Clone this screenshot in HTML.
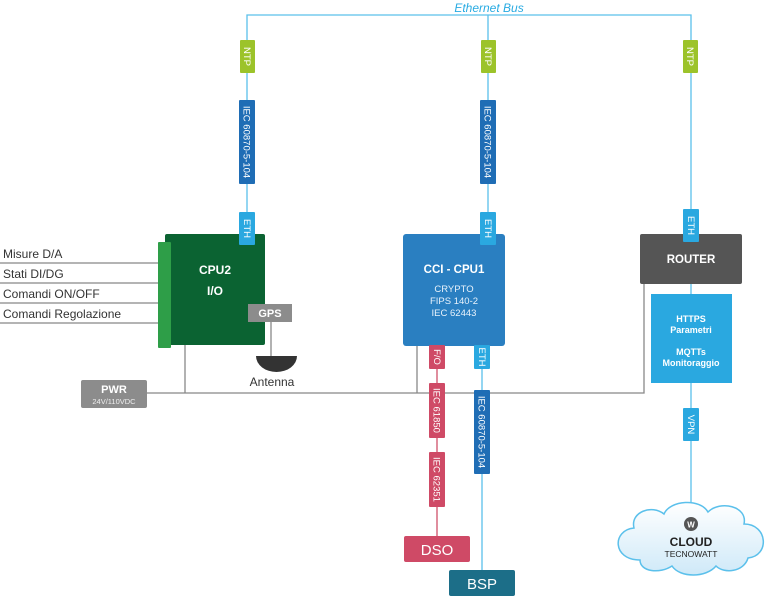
<!DOCTYPE html>
<html><head><meta charset="utf-8"><style>
html,body{margin:0;padding:0;background:#fff;}
svg{display:block;font-family:"Liberation Sans",sans-serif;}
</style></head><body>
<svg width="768" height="596" viewBox="0 0 768 596" xmlns="http://www.w3.org/2000/svg">
<defs>
<linearGradient id="cg" x1="0" y1="0" x2="0" y2="1"><stop offset="0" stop-color="#ffffff"/><stop offset="1" stop-color="#cfe9f8"/></linearGradient>
</defs>
<g stroke="#5bc0eb" stroke-width="1.3" fill="none">
<polyline points="247,246 247,15 691,15 691,242"/>
<line x1="488" y1="15" x2="488" y2="246"/>
<line x1="482" y1="368" x2="482" y2="570"/>
<line x1="691" y1="284" x2="691" y2="505"/>
</g>
<text x="489" y="12" font-size="12" font-style="italic" fill="#29abe2" text-anchor="middle">Ethernet Bus</text>
<g stroke="#888" stroke-width="1.3" fill="none">
<polyline points="147,393 644,393 644,284"/>
<line x1="185" y1="344" x2="185" y2="393"/>
<line x1="417" y1="346" x2="417" y2="393"/>
<line x1="271" y1="322" x2="271" y2="356"/>
<line x1="0" y1="263" x2="158" y2="263"/>
<line x1="0" y1="283" x2="158" y2="283"/>
<line x1="0" y1="303" x2="158" y2="303"/>
<line x1="0" y1="323" x2="158" y2="323"/>
</g>
<line x1="437" y1="368" x2="437" y2="536" stroke="#d0506a" stroke-width="1.3"/>
<g font-size="12" fill="#333">
<text x="3" y="258">Misure D/A</text>
<text x="3" y="278">Stati DI/DG</text>
<text x="3" y="298">Comandi ON/OFF</text>
<text x="3" y="318">Comandi Regolazione</text>
</g>
<rect x="165" y="234" width="100" height="111" rx="2" fill="#0b6332"/>
<rect x="158" y="242" width="13" height="106" rx="1" fill="#2e9e48"/>
<text x="215" y="274" font-size="12" font-weight="bold" fill="#fff" text-anchor="middle">CPU2</text>
<text x="215" y="295" font-size="12" font-weight="bold" fill="#fff" text-anchor="middle">I/O</text>
<rect x="248" y="304" width="44" height="18" fill="#8c8c8c"/>
<text x="270" y="317" font-size="11" font-weight="bold" fill="#fff" text-anchor="middle">GPS</text>
<path d="M256,356 L297,356 A20.5,16 0 0 1 256,356 Z" fill="#333"/>
<text x="272" y="386" font-size="12" fill="#333" text-anchor="middle">Antenna</text>
<rect x="81" y="380" width="66" height="28" rx="2" fill="#8c8c8c"/>
<text x="114" y="393" font-size="11" font-weight="bold" fill="#fff" text-anchor="middle">PWR</text>
<text x="114" y="404" font-size="7.5" fill="#eee" text-anchor="middle">24V/110VDC</text>
<rect x="403" y="234" width="102" height="112" rx="3" fill="#2a7fc1"/>
<text x="454" y="273" font-size="11.5" font-weight="bold" fill="#fff" text-anchor="middle">CCI - CPU1</text>
<g font-size="9.5" fill="#e8f2fb" text-anchor="middle">
<text x="454" y="292">CRYPTO</text>
<text x="454" y="304">FIPS 140-2</text>
<text x="454" y="316">IEC 62443</text>
</g>
<rect x="640" y="234" width="102" height="50" rx="2" fill="#555"/>
<text x="691" y="263" font-size="11.5" font-weight="bold" fill="#fff" text-anchor="middle">ROUTER</text>
<rect x="651" y="294" width="81" height="89" fill="#2aa8e0"/>
<g font-size="9" font-weight="bold" fill="#fff" text-anchor="middle">
<text x="691" y="322">HTTPS</text>
<text x="691" y="333">Parametri</text>
<text x="691" y="355">MQTTs</text>
<text x="691" y="366">Monitoraggio</text>
</g>
<rect x="404" y="536" width="66" height="26" rx="2" fill="#cf4a66"/>
<text x="437" y="555" font-size="15" fill="#fff" text-anchor="middle">DSO</text>
<rect x="449" y="570" width="66" height="26" rx="2" fill="#1c6e88"/>
<text x="482" y="589" font-size="15" fill="#fff" text-anchor="middle">BSP</text>
<g font-size="9.5" fill="#fff">
<rect x="240" y="40" width="15" height="33" rx="1" fill="#9cc32a"/>
<text transform="translate(244,56.5) rotate(90)" text-anchor="middle">NTP</text>
<rect x="481" y="40" width="15" height="33" rx="1" fill="#9cc32a"/>
<text transform="translate(485,56.5) rotate(90)" text-anchor="middle">NTP</text>
<rect x="683" y="40" width="15" height="33" rx="1" fill="#9cc32a"/>
<text transform="translate(687,56.5) rotate(90)" text-anchor="middle">NTP</text>
<rect x="239" y="100" width="16" height="84" rx="1" fill="#1f6db5"/>
<text transform="translate(243.5,142) rotate(90)" text-anchor="middle">IEC 60870-5-104</text>
<rect x="480" y="100" width="16" height="84" rx="1" fill="#1f6db5"/>
<text transform="translate(484.5,142) rotate(90)" text-anchor="middle">IEC 60870-5-104</text>
<rect x="239" y="212" width="16" height="33" rx="1" fill="#2aa8e0"/>
<text transform="translate(244,228.5) rotate(90)" text-anchor="middle">ETH</text>
<rect x="480" y="212" width="16" height="33" rx="1" fill="#2aa8e0"/>
<text transform="translate(485,228.5) rotate(90)" text-anchor="middle">ETH</text>
<rect x="683" y="209" width="16" height="33" rx="1" fill="#2aa8e0"/>
<text transform="translate(688,225.5) rotate(90)" text-anchor="middle">ETH</text>
<rect x="429" y="345" width="16" height="24" rx="1" fill="#cf4a66"/>
<text transform="translate(434,357) rotate(90)" text-anchor="middle">F/O</text>
<rect x="474" y="345" width="16" height="24" rx="1" fill="#2aa8e0"/>
<text transform="translate(479,357) rotate(90)" text-anchor="middle">ETH</text>
<rect x="429" y="383" width="16" height="55" rx="1" fill="#cf4a66"/>
<text transform="translate(433.5,410.5) rotate(90)" text-anchor="middle">IEC 61850</text>
<rect x="429" y="452" width="16" height="55" rx="1" fill="#cf4a66"/>
<text transform="translate(433.5,479.5) rotate(90)" text-anchor="middle">IEC 62351</text>
<rect x="474" y="390" width="16" height="84" rx="1" fill="#1f6db5"/>
<text transform="translate(478.5,432) rotate(90)" text-anchor="middle">IEC 60870-5-104</text>
<rect x="683" y="408" width="16" height="33" rx="1" fill="#2aa8e0"/>
<text transform="translate(688,424.5) rotate(90)" text-anchor="middle">VPN</text>
</g>
<path d="M640,560 C612,560 612,530 634,528 C630,512 652,504 664,514 C670,500 700,498 708,512 C720,500 748,506 744,524 C768,524 770,556 748,558 C744,572 724,574 716,566 C706,578 680,578 672,566 C660,574 640,572 640,560 Z" fill="url(#cg)" stroke="#5bc0eb" stroke-width="1.5"/>
<circle cx="691" cy="524" r="7" fill="#555"/>
<text x="691" y="527.5" font-size="8" font-weight="bold" fill="#fff" text-anchor="middle">W</text>
<text x="691" y="546" font-size="12" font-weight="bold" fill="#222" text-anchor="middle">CLOUD</text>
<text x="691" y="557" font-size="8.5" fill="#222" text-anchor="middle">TECNOWATT</text>
</svg>
</body></html>
